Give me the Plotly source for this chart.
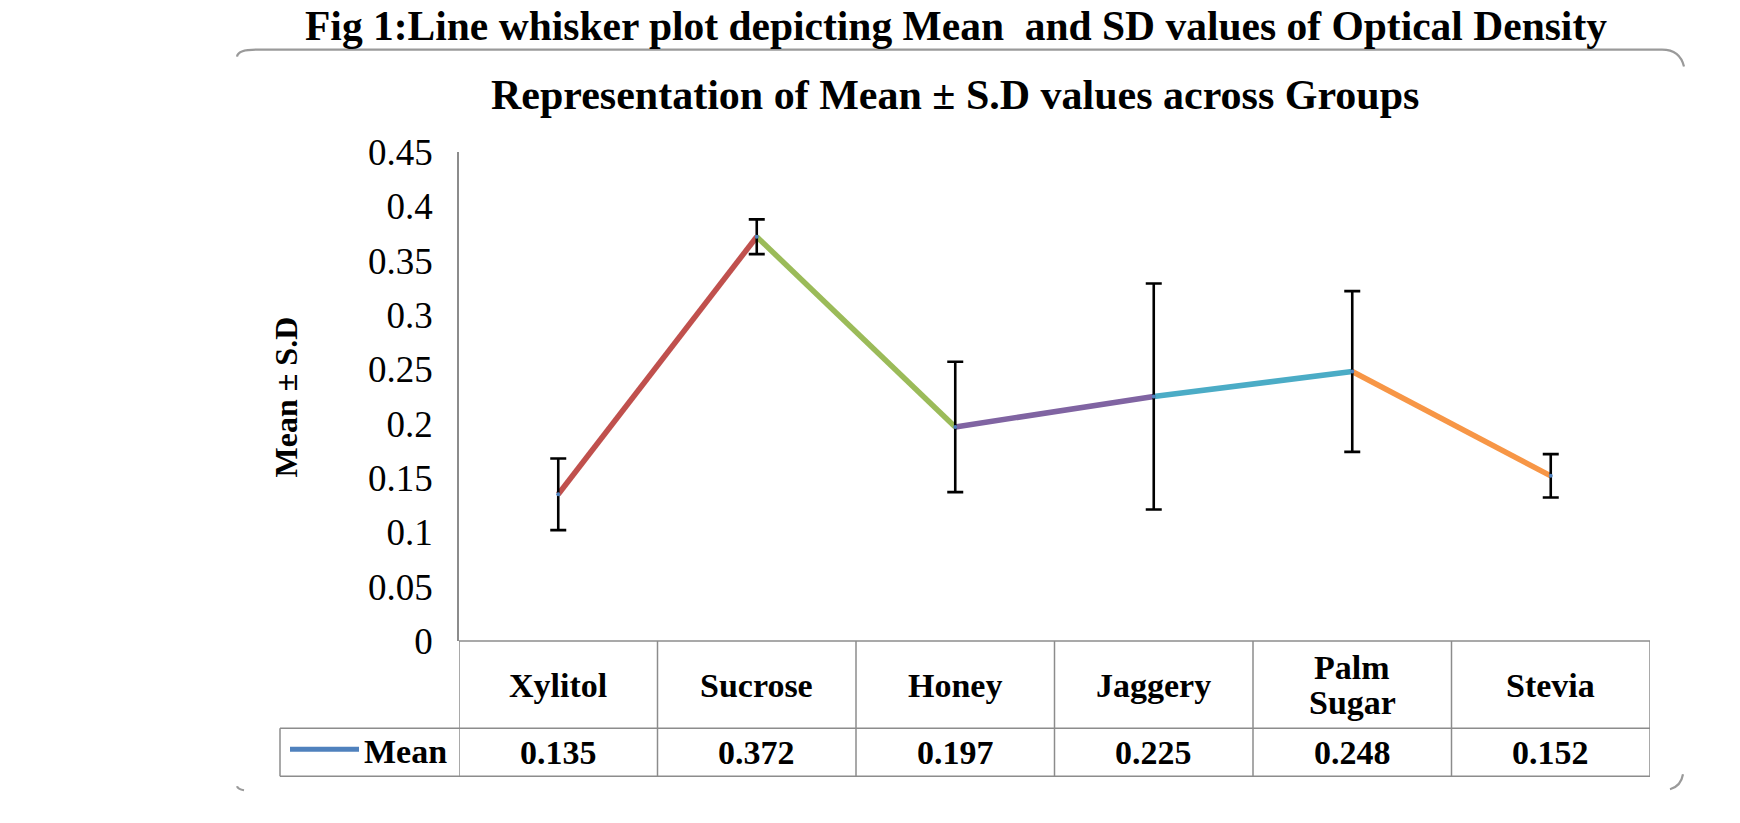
import plotly.graph_objects as go

# ---------------- data ----------------
groups = ["Xylitol", "Sucrose", "Honey", "Jaggery", "Palm Sugar", "Stevia"]
group_labels = ["Xylitol", "Sucrose", "Honey", "Jaggery", "Palm<br>Sugar", "Stevia"]
means = [0.135, 0.372, 0.197, 0.225, 0.248, 0.152]
sds = [0.033, 0.016, 0.060, 0.104, 0.074, 0.020]
segment_colors = ["#C0504D", "#9BBB59", "#8064A2", "#4BACC6", "#F79646"]
y_ticks = [0, 0.05, 0.1, 0.15, 0.2, 0.25, 0.3, 0.35, 0.4, 0.45]
y_ticktext = ["0", "0.05", "0.1", "0.15", "0.2", "0.25", "0.3", "0.35", "0.4", "0.45"]

W, H = 1740, 823
L, R, T, B = 459, 1650, 151.5, 640.7   # plot area in pixels
FONT = "Liberation Serif"
GRAY = "#8C8C8C"

def px(X):
    return (X - L) / (R - L)

def py(Y):
    return (B - Y) / (B - T)

fig = go.Figure()

# coloured line segments (vary colours by point)
for i in range(len(groups) - 1):
    fig.add_trace(go.Scatter(
        x=list(range(i, i + 2)), y=means[i:i + 2], mode="lines",
        line=dict(color=segment_colors[i], width=5.5),
        showlegend=False, hoverinfo="skip"))

# error bars + points
fig.add_trace(go.Scatter(
    x=list(range(len(groups))), y=means, mode="markers",
    marker=dict(color="#4F81BD", size=4),
    error_y=dict(type="data", array=sds, visible=True, color="black",
                 thickness=2.6, width=8),
    showlegend=False, hovertext=groups))

shapes = []
annotations = []

# data table below the axis
n = len(groups)
row1_bot = py(728)
row2_bot = py(776)
shapes.append(dict(type="line", xref="x", yref="paper", x0=-0.5, x1=n - 0.5,
                   y0=0, y1=0, line=dict(color=GRAY, width=1.5)))
shapes.append(dict(type="line", xref="paper", yref="paper", x0=px(280), x1=1,
                   y0=row1_bot, y1=row1_bot, line=dict(color=GRAY, width=1.5)))
shapes.append(dict(type="line", xref="paper", yref="paper", x0=px(280), x1=1,
                   y0=row2_bot, y1=row2_bot, line=dict(color=GRAY, width=1.5)))
for i in range(n + 1):
    shapes.append(dict(type="line", xref="x", yref="paper", x0=i - 0.5, x1=i - 0.5,
                       y0=0, y1=row2_bot, line=dict(color=GRAY, width=1.5)))
shapes.append(dict(type="line", xref="paper", yref="paper", x0=px(280), x1=px(280),
                   y0=row1_bot, y1=row2_bot, line=dict(color=GRAY, width=1.5)))
# legend key line
shapes.append(dict(type="line", xref="paper", yref="paper", x0=px(290), x1=px(359),
                   y0=py(749), y1=py(749), line=dict(color="#4F81BD", width=5)))

TFS = 34
for i, (lab, m) in enumerate(zip(group_labels, means)):
    lines = lab.split("<br>")
    k = len(lines)
    for j, ln in enumerate(lines):
        yc = 685 + (j - (k - 1) / 2) * 35
        annotations.append(dict(x=i, y=py(yc), xref="x", yref="paper", text="<b>%s</b>" % ln,
                                showarrow=False, font=dict(family=FONT, size=TFS, color="black"),
                                xanchor="center", yanchor="middle"))
    annotations.append(dict(x=i, y=py(752), xref="x", yref="paper", text="<b>%.3f</b>" % m,
                            showarrow=False, font=dict(family=FONT, size=TFS, color="black"),
                            xanchor="center", yanchor="middle"))
annotations.append(dict(x=px(362), y=py(751), xref="paper", yref="paper", text="<b>Mean</b>",
                        showarrow=False, font=dict(family=FONT, size=TFS, color="black"),
                        xanchor="left", yanchor="middle"))

# titles
annotations.append(dict(x=px(956), y=py(25), xref="paper", yref="paper",
                        text="<b>Fig 1:Line whisker plot depicting Mean&nbsp; and SD values of Optical Density</b>",
                        showarrow=False, font=dict(family=FONT, size=41.5, color="black"),
                        xanchor="center", yanchor="middle"))
annotations.append(dict(x=px(955), y=py(94), xref="paper", yref="paper",
                        text="<b>Representation of Mean ± S.D values across Groups</b>",
                        showarrow=False, font=dict(family=FONT, size=42, color="black"),
                        xanchor="center", yanchor="middle"))
annotations.append(dict(x=px(286), y=py(397), xref="paper", yref="paper",
                        text="<b>Mean ± S.D</b>", textangle=-90,
                        showarrow=False, font=dict(family=FONT, size=32, color="black"),
                        xanchor="center", yanchor="middle"))

# frame (partially visible rounded border)
def pt(X, Y):
    return "%.5f,%.5f" % (px(X), py(Y))

shapes.append(dict(type="path", xref="paper", yref="paper",
                   path="M %s Q %s %s L %s Q %s %s" % (
                       pt(237, 56), pt(238, 49), pt(256, 49), pt(1662, 49),
                       pt(1680, 49), pt(1684, 66)),
                   line=dict(color="#9A9A9A", width=2.2)))
shapes.append(dict(type="path", xref="paper", yref="paper",
                   path="M %s Q %s %s" % (pt(237, 786), pt(238, 789), pt(244, 790)),
                   line=dict(color="#9A9A9A", width=2.2)))
shapes.append(dict(type="path", xref="paper", yref="paper",
                   path="M %s Q %s %s" % (pt(1683, 774), pt(1681, 786), pt(1670, 789)),
                   line=dict(color="#9A9A9A", width=2.2)))

fig.update_layout(
    width=W, height=H,
    margin=dict(l=L, r=W - R, t=T, b=H - B),
    paper_bgcolor="white", plot_bgcolor="white",
    shapes=shapes, annotations=annotations,
    showlegend=False,
    xaxis=dict(range=[-0.5, n - 0.5], showticklabels=False, showgrid=False,
               zeroline=False, showline=False, ticks=""),
    yaxis=dict(range=[0, 0.45], tickvals=y_ticks, ticktext=y_ticktext,
               showgrid=False, zeroline=False, showline=True, linecolor=GRAY,
               linewidth=1.5, ticks="", ticklabelstandoff=17,
               tickfont=dict(family=FONT, size=37, color="black")),
)

fig.write_html("out.html")
